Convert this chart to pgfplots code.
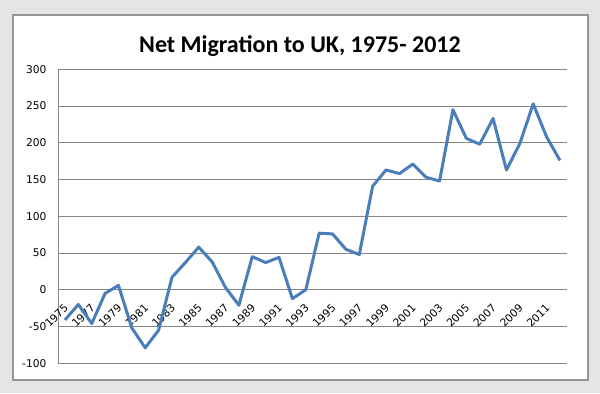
\documentclass[border=0pt]{standalone}
\usepackage{pgfplots}
\pgfplotsset{compat=1.18}
\usepackage{fontspec}
\setmainfont{DejaVu Sans}
\newfontfamily\titlefont{Carlito}
\definecolor{bgc}{RGB}{229,229,229}
\definecolor{framec}{RGB}{150,150,150}
\definecolor{gridc}{RGB}{134,134,134}
\definecolor{linec}{RGB}{74,126,187}
\begin{document}
\begin{tikzpicture}[x=1pt,y=1pt]
\fill[bgc] (0,0) rectangle (450,294.75);
\draw[framec, fill=white, line width=1.2pt] (9.75,9.75) rectangle (441,283.5);
\node[font=\titlefont\bfseries\fontsize{18}{20}\selectfont] at (225,260.25) {Net Migration to UK, 1975- 2012};
\begin{axis}[at={(43.7pt,22.3pt)}, anchor=south west, scale only axis,
 width=381.3pt, height=220.5pt,
 xmin=1974.5, xmax=2012.5, ymin=-100, ymax=300,
 axis x line*=middle, axis y line*=left,
 hide obscured x ticks=false, hide obscured y ticks=false,
 axis line style={gridc, line width=0.75pt},
 ytick={-100,-50,...,300}, ymajorgrids, grid style={gridc, line width=0.75pt},
 xtick={1975,1977,...,2011},
 major tick length=0pt,
 tick label style={font=\fontsize{8}{9}\selectfont},
 /pgf/number format/assume math mode=true,
 /pgf/number format/1000 sep={},
 yticklabel style={anchor=east, inner sep=0pt, xshift=-8.7pt},
 xticklabel style={xshift=1pt, yshift=-12pt, rotate=45, anchor=east, inner sep=0pt},
 clip=false,
]
\addplot[linec, line width=2.25pt, line join=round, mark=none] coordinates {
(1975,-41) (1976,-20) (1977,-46) (1978,-5) (1979,6) (1980,-52) (1981,-79) (1982,-55)
(1983,17) (1984,37) (1985,58) (1986,38) (1987,3) (1988,-21) (1989,45) (1990,37)
(1991,44) (1992,-12) (1993,0) (1994,77) (1995,76) (1996,55) (1997,48) (1998,141)
(1999,163) (2000,158) (2001,171) (2002,153) (2003,148) (2004,245) (2005,206) (2006,198)
(2007,233) (2008,163) (2009,199) (2010,253) (2011,208) (2012,176)
};
\end{axis}
\end{tikzpicture}
\end{document}
